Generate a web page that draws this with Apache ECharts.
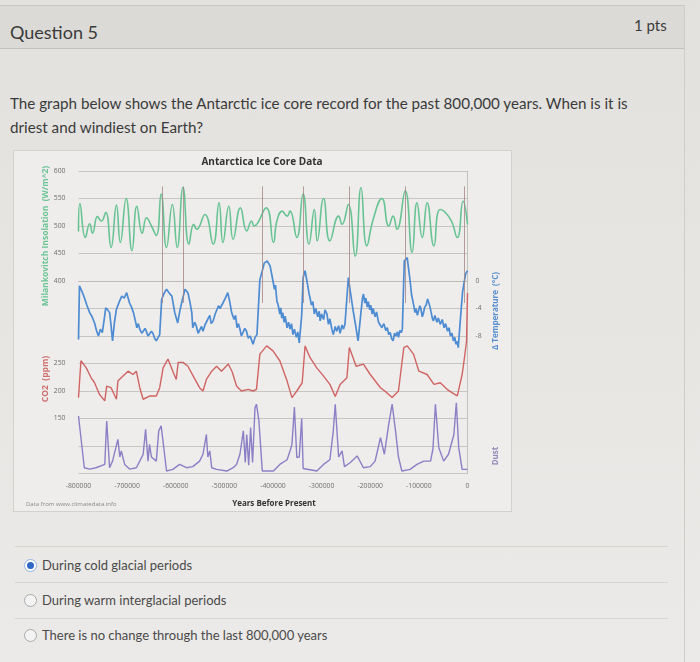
<!DOCTYPE html>
<html><head><meta charset="utf-8">
<script src="https://cdn.jsdelivr.net/npm/echarts/dist/echarts.min.js"></script>
<style>
html,body{margin:0;padding:0;width:700px;height:662px;overflow:hidden;background:#e8e6e3;font-family:Lato,"Open Sans",sans-serif;}
#page{position:relative;width:700px;height:662px;background:linear-gradient(#e3e1de,#ebeae8);}
.abs{position:absolute;white-space:nowrap;}
#hdr{position:absolute;left:0;top:5px;width:684px;height:42px;background:#dcdad7;border-top:1px solid #c9c7c4;border-bottom:1px solid #c3c1be;}
#rborder{position:absolute;left:684px;top:5px;width:1px;height:657px;background:#cfcdca;}
.sep{position:absolute;left:15px;width:653px;height:1px;background:#d6d4d1;}
.opt{position:absolute;left:42px;font-size:13px;color:#4a4a4a;line-height:16px;}
.radio{position:absolute;left:24px;width:11px;height:11px;border-radius:50%;border:1px solid #a9a9a9;background:#f3f3f3;}
#chartBox{position:absolute;left:13px;top:150px;width:497px;height:360px;background:#eeedeb;border:1px solid #d3d1ce;}
</style></head>
<body><div id="page">
<div id="hdr"></div>
<div id="rborder"></div>
<div class="abs" style="left:10px;top:20px;font-size:18px;line-height:24px;color:#3a3a3a;">Question 5</div>
<div class="abs" style="left:634px;top:15px;font-size:15px;line-height:20px;color:#3a3a3a;">1 pts</div>
<div class="abs" style="left:10px;top:91px;font-size:15.2px;line-height:24px;color:#3a3a3a;">The graph below shows the Antarctic ice core record for the past 800,000 years. When is it is<br>driest and windiest on Earth?</div>
<div id="chartBox"></div>
<div class="sep" style="top:546px"></div>
<div class="radio" style="top:559px;border-color:#8fb3e6;background:#ffffff;"><div style="position:absolute;left:2px;top:2px;width:7px;height:7px;border-radius:50%;background:#2f66c8;"></div></div>
<div class="opt" style="top:557px">During cold glacial periods</div>
<div class="sep" style="top:582px"></div>
<div class="radio" style="top:594px"></div>
<div class="opt" style="top:592px">During warm interglacial periods</div>
<div class="sep" style="top:618px"></div>
<div class="radio" style="top:629px"></div>
<div class="opt" style="top:627px">There is no change through the last 800,000 years</div>
</div>
<script>
// ---- data ----
const xTicks = [-800000,-700000,-600000,-500000,-400000,-300000,-200000,-100000,0];
const insolLabels = [400,450,500,550,600];
const co2Labels = [150,200,250];
const tempLabels = [-8,-4,0];
const interglacialYears = [-627000,-584000,-423000,-338000,-243000,-128000,-6000];

const insolation = [[-800000,490],[-797000,541],[-786000,479],[-777000,504],[-771000,487],[-761000,517],[-753000,509],[-744000,525],[-733000,461],[-722000,538],[-714000,470],[-702000,550],[-690000,455],[-680000,536],[-669000,487],[-660000,515],[-650000,500],[-640000,483],[-630000,558],[-619000,461],[-607000,539],[-597000,461],[-585000,570],[-573000,467],[-563000,503],[-557000,494],[-540000,521],[-523000,467],[-511000,542],[-503000,470],[-491000,536],[-482000,476],[-467000,533],[-454000,491],[-444000,509],[-439000,500],[-414000,533],[-399000,470],[-392000,509],[-381000,527],[-371000,518],[-365000,527],[-351000,479],[-338000,558],[-326000,467],[-315000,530],[-309000,473],[-296000,550],[-283000,473],[-265000,518],[-258000,503],[-245000,539],[-231000,445],[-219000,570],[-207000,464],[-194000,512],[-176000,550],[-162000,500],[-153000,518],[-145000,494],[-128000,564],[-114000,452],[-104000,542],[-93000,479],[-83000,542],[-69000,464],[-56000,530],[-35000,512],[-21000,479],[-9000,545],[0,503]];

const temperature = [[-800000,-8.5],[-798000,-0.7],[-793000,-1.5],[-788000,-2.4],[-783000,-3.5],[-777000,-4.6],[-772000,-5.2],[-767000,-6.1],[-763000,-7.2],[-759000,-8.0],[-755000,-7.0],[-751000,-7.5],[-747000,-5.5],[-744000,-3.9],[-740000,-4.2],[-736000,-4.6],[-733000,-6.5],[-730000,-8.7],[-726000,-6.0],[-722000,-4.1],[-716000,-3.0],[-711000,-2.2],[-706000,-2.5],[-701000,-1.7],[-695000,-3.2],[-691000,-3.8],[-687000,-4.6],[-683000,-5.8],[-680000,-6.8],[-677000,-6.2],[-674000,-7.0],[-670000,-7.6],[-667000,-7.8],[-663000,-6.9],[-660000,-7.4],[-657000,-8.0],[-654000,-8.2],[-650000,-7.3],[-647000,-7.6],[-643000,-8.4],[-640000,-8.7],[-633000,-7.8],[-629000,-2.7],[-624000,-1.8],[-619000,-1.2],[-613000,-1.8],[-608000,-2.2],[-602000,-4.6],[-596000,-6.1],[-592000,-4.5],[-588000,-3.2],[-581000,-1.2],[-575000,-1.7],[-571000,-3.0],[-567000,-4.6],[-565000,-6.8],[-561000,-6.0],[-558000,-6.5],[-554000,-7.6],[-551000,-7.5],[-547000,-6.6],[-544000,-7.3],[-540000,-6.4],[-537000,-6.2],[-533000,-5.4],[-530000,-5.0],[-527000,-6.2],[-523000,-5.8],[-519000,-4.8],[-516000,-4.6],[-512000,-3.6],[-509000,-4.0],[-503000,-3.2],[-498000,-2.5],[-493000,-1.7],[-489000,-3.0],[-485000,-4.6],[-480000,-5.6],[-477000,-5.0],[-474000,-6.8],[-471000,-6.2],[-468000,-7.0],[-465000,-8.0],[-462000,-7.8],[-458000,-6.9],[-455000,-7.2],[-451000,-8.3],[-447000,-8.0],[-444000,-8.6],[-441000,-9.2],[-437000,-8.2],[-433000,-7.8],[-427000,0.2],[-422000,1.5],[-418000,2.6],[-412000,2.9],[-406000,2.2],[-400000,0],[-397000,-1.2],[-395000,-0.6],[-392000,-2.9],[-389000,-3.6],[-386000,-4.8],[-384000,-3.9],[-382000,-5.4],[-380000,-4.6],[-377000,-6.0],[-375000,-5.1],[-371000,-6.8],[-368000,-6.0],[-365000,-7.0],[-362000,-6.2],[-359000,-7.8],[-356000,-7.0],[-352000,-8.2],[-349000,-7.4],[-346000,-9.0],[-341000,-5.0],[-338000,0.5],[-334000,1.5],[-329000,-0.5],[-326000,-1.8],[-324000,-2.4],[-321000,-3.5],[-318000,-3.0],[-315000,-4.8],[-312000,-4.0],[-308000,-5.2],[-305000,-4.4],[-303000,-5.8],[-300000,-4.8],[-296000,-5.6],[-293000,-4.2],[-289000,-4.8],[-286000,-6.3],[-283000,-5.5],[-279000,-7.0],[-276000,-7.8],[-272000,-6.6],[-269000,-7.3],[-265000,-6.5],[-262000,-7.6],[-258000,-6.4],[-255000,-7.0],[-252000,-6.3],[-245000,0.5],[-240000,-2.0],[-235000,-4.4],[-230000,-6.5],[-225000,-8.7],[-219000,-4.5],[-216000,-2.5],[-214000,-1.9],[-211000,-3.2],[-209000,-2.5],[-206000,-3.8],[-204000,-3.0],[-201000,-4.2],[-199000,-3.5],[-196000,-4.8],[-194000,-4.0],[-190000,-5.2],[-187000,-4.5],[-183000,-6.0],[-179000,-5.8],[-176000,-6.8],[-172000,-6.2],[-168000,-7.2],[-165000,-6.8],[-162000,-7.8],[-159000,-7.5],[-156000,-8.4],[-153000,-8.7],[-150000,-7.6],[-147000,-8.0],[-144000,-7.4],[-142000,-8.2],[-139000,-7.2],[-136000,-7.5],[-134000,-7.0],[-130000,2.9],[-124000,3.4],[-118000,0],[-115000,-2.0],[-111000,-3.4],[-108000,-4.6],[-106000,-4.0],[-103000,-5.0],[-101000,-4.4],[-98000,-3.6],[-96000,-4.0],[-93000,-5.2],[-91000,-4.8],[-88000,-3.8],[-85000,-3.5],[-82000,-2.6],[-80000,-2.4],[-77000,-3.8],[-75000,-4.5],[-72000,-5.5],[-70000,-5.8],[-67000,-5.0],[-63000,-6.0],[-60000,-5.4],[-56000,-6.3],[-52000,-5.6],[-48000,-6.8],[-45000,-6.2],[-41000,-7.3],[-38000,-6.8],[-35000,-8.0],[-32000,-7.6],[-29000,-8.7],[-26000,-8.2],[-24000,-9.2],[-21000,-8.8],[-19000,-9.7],[-14000,-5.0],[-10000,-1.5],[-4000,1.0],[0,1.5]];

const co2 = [[-800000,188],[-795000,255],[-784000,242],[-774000,224],[-767000,215],[-757000,194],[-746000,182],[-742000,209],[-733000,206],[-722000,185],[-719000,218],[-709000,227],[-698000,236],[-688000,230],[-681000,236],[-674000,206],[-667000,185],[-653000,191],[-640000,191],[-633000,206],[-626000,242],[-616000,258],[-606000,236],[-599000,221],[-595000,252],[-585000,252],[-575000,245],[-564000,227],[-551000,206],[-544000,200],[-537000,221],[-526000,236],[-516000,245],[-506000,236],[-492000,249],[-484000,235],[-475000,209],[-465000,200],[-451000,203],[-441000,200],[-434000,203],[-427000,267],[-413000,282],[-400000,273],[-386000,255],[-371000,218],[-361000,188],[-351000,200],[-340000,215],[-334000,282],[-324000,261],[-310000,242],[-296000,227],[-283000,212],[-272000,190],[-262000,212],[-248000,224],[-243000,279],[-229000,245],[-214000,249],[-200000,230],[-179000,206],[-166000,197],[-155000,188],[-142000,200],[-131000,279],[-124000,282],[-111000,267],[-100000,236],[-83000,230],[-69000,212],[-56000,215],[-42000,203],[-32000,197],[-21000,191],[-11000,230],[-6000,262],[-2000,290],[0,378]];

const dust = [[-800000,209],[-795000,130],[-788000,21],[-777000,16],[-764000,21],[-746000,33],[-742000,191],[-736000,21],[-730000,45],[-719000,124],[-715000,60],[-712000,82],[-705000,33],[-695000,16],[-681000,21],[-674000,45],[-667000,70],[-662000,161],[-657000,45],[-654000,106],[-650000,60],[-640000,45],[-635000,155],[-630000,173],[-623000,70],[-619000,9],[-606000,15],[-592000,33],[-578000,21],[-565000,25],[-551000,45],[-544000,70],[-537000,142],[-534000,60],[-530000,82],[-526000,21],[-516000,15],[-495000,9],[-482000,21],[-475000,33],[-468000,70],[-461000,155],[-457000,40],[-454000,142],[-450000,30],[-446000,167],[-442000,40],[-437000,239],[-434000,252],[-429000,191],[-422000,9],[-399000,9],[-386000,33],[-371000,50],[-365000,82],[-361000,106],[-356000,242],[-351000,58],[-346000,60],[-341000,200],[-338000,18],[-310000,9],[-303000,21],[-296000,33],[-283000,50],[-276000,155],[-272000,252],[-265000,60],[-258000,82],[-253000,25],[-241000,40],[-227000,64],[-214000,21],[-200000,25],[-190000,45],[-179000,130],[-171000,70],[-162000,179],[-155000,252],[-148000,155],[-142000,60],[-135000,9],[-118000,15],[-104000,33],[-90000,45],[-76000,45],[-71000,90],[-66000,252],[-59000,94],[-49000,45],[-39000,70],[-28000,142],[-23000,257],[-18000,94],[-11000,15],[0,15]];

// ---- chart ----
const chart = echarts.init(document.getElementById('chartBox'), null, {renderer:'canvas'});
const tickFont = {fontSize:6.8, color:'#6e6e6e', fontFamily:'"Open Sans", sans-serif'};
const insolSet = new Set(insolLabels), co2Set = new Set(co2Labels), tempSet = new Set(tempLabels);
chart.setOption({
  animation:false,
  backgroundColor:'transparent',
  grid:{left:64.5, right:43.5, top:20, bottom:37.5},
  xAxis:{type:'value', min:xTicks[0], max:xTicks[xTicks.length-1], interval:100000,
    axisLine:{show:true, lineStyle:{color:'#bdbbb8'}}, axisTick:{show:false}, splitLine:{show:false},
    axisLabel:Object.assign({margin:9, formatter:v=>String(v)}, tickFont)},
  yAxis:[
    {type:'value', position:'left', min:50, max:600, interval:50,
     axisLine:{show:false}, axisTick:{show:false},
     splitLine:{show:true, lineStyle:{color:'#c8c6c3', width:1}},
     axisLabel:Object.assign({margin:13, formatter:v=>insolSet.has(v)?String(v):''}, tickFont)},
    {type:'value', position:'left', min:50, max:600, interval:50,
     axisLine:{show:false}, axisTick:{show:false}, splitLine:{show:false},
     axisLabel:Object.assign({margin:13, formatter:v=>co2Set.has(v)?String(v):''}, tickFont)},
    {type:'value', position:'right', min:-28, max:16, interval:4,
     axisLine:{show:true, lineStyle:{color:'#c3c1be'}}, axisTick:{show:false}, splitLine:{show:false},
     axisLabel:Object.assign({margin:8, formatter:v=>tempSet.has(v)?String(v):''}, tickFont)},
    {type:'value', position:'right', min:0, max:1100, show:false}
  ],
  graphic:[
    {type:'text', x:248, y:11, style:{text:'Antarctica Ice Core Data', font:'bold 10px "Open Sans", sans-serif', fill:'#333', align:'center', verticalAlign:'middle'}},
    {type:'text', x:32, y:85, rotation:Math.PI/2, style:{text:'Milankovitch Insolation  (W/m^2)', font:'bold 8.5px "Open Sans", sans-serif', fill:'#6cc497', align:'center', verticalAlign:'middle'}},
    {type:'text', x:32, y:228, rotation:Math.PI/2, style:{text:'CO2  (ppm)', font:'bold 8.5px "Open Sans", sans-serif', fill:'#d07070', align:'center', verticalAlign:'middle'}},
    {type:'text', x:482, y:160, rotation:Math.PI/2, style:{text:'Δ Temperature  (°C)', font:'bold 8px "Open Sans", sans-serif', fill:'#5a90cf', align:'center', verticalAlign:'middle'}},
    {type:'text', x:482, y:305, rotation:Math.PI/2, style:{text:'Dust', font:'bold 8px "Open Sans", sans-serif', fill:'#958cba', align:'center', verticalAlign:'middle'}},
    {type:'text', x:260, y:353, style:{text:'Years Before Present', font:'bold 8px "Open Sans", sans-serif', fill:'#333', align:'center', verticalAlign:'middle'}},
    {type:'text', x:12, y:353, style:{text:'Data from www.climatedata.info', font:'6px "Open Sans", sans-serif', fill:'#888', align:'left', verticalAlign:'middle'}}
  ],
  series:[
    {name:'Insolation', type:'line', yAxisIndex:0, data:insolation, smooth:0.5, showSymbol:false,
     lineStyle:{color:'#68c394', width:1.6},
     markLine:{silent:true, symbol:'none', label:{show:false},
       lineStyle:{color:'#a48484', width:0.8, type:'solid'},
       data:interglacialYears.map(y=>[{coord:[y,572]},{coord:[y,360]}])}},
    {name:'Temperature', type:'line', yAxisIndex:2, data:temperature, showSymbol:false,
     lineStyle:{color:'#4d8bd2', width:1.7}},
    {name:'CO2', type:'line', yAxisIndex:1, data:co2, showSymbol:false,
     lineStyle:{color:'#d06464', width:1.4}},
    {name:'Dust', type:'line', yAxisIndex:3, data:dust, showSymbol:false,
     lineStyle:{color:'#8b7fc6', width:1.4}}
  ]
});
</script>
</body></html>
